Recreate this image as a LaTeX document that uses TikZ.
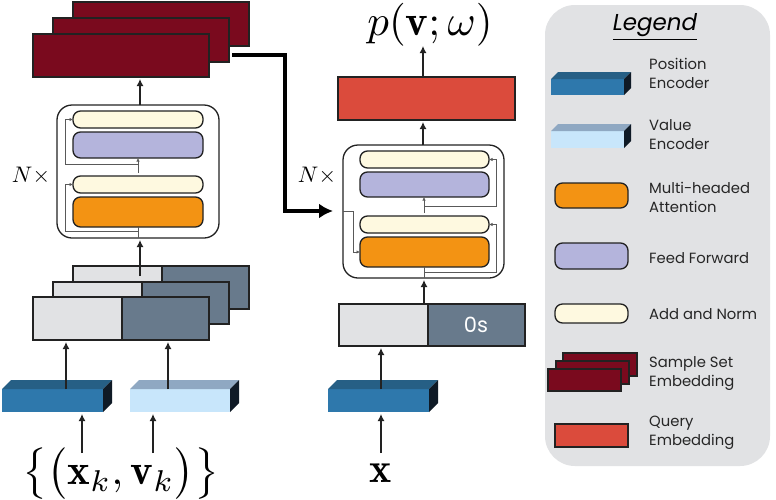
\documentclass[tikz,border=0pt]{standalone}
\usepackage{amsmath}
\usepackage{amssymb}
\usepackage{fontspec}
\newfontfamily\legfont{Poppins}
\usetikzlibrary{arrows.meta,calc}
\definecolor{maroon}{HTML}{7A0A1E}
\definecolor{posblue}{HTML}{2E78AC}
\definecolor{postop}{HTML}{265F85}
\definecolor{blockside}{HTML}{0F1A26}
\definecolor{valfront}{HTML}{C8E6FB}
\definecolor{valtop}{HTML}{8FA8C2}
\definecolor{lightg}{HTML}{E1E2E4}
\definecolor{darkg}{HTML}{687A8C}
\definecolor{orangeb}{HTML}{F39313}
\definecolor{purpleb}{HTML}{B4B4DC}
\definecolor{yellowb}{HTML}{FEF9E0}
\definecolor{redb}{HTML}{DB4B3C}
\definecolor{inkc}{HTML}{222222}
\tikzset{
  px/.style={draw=inkc,line width=1.3pt,inner sep=0pt,outer sep=0pt},
  enclosure/.style={px,fill=white,rounded corners=15pt},
  pill/.style={px,rounded corners=7.5pt},
  yellowpill/.style={pill,fill=yellowb},
  purplepill/.style={pill,fill=purpleb},
  orangepill/.style={pill,fill=orangeb},
  maroonbox/.style={px,fill=maroon},
  redbox/.style={px,fill=redb},
  lightbox/.style={px,fill=lightg},
  darkbox/.style={px,fill=darkg},
  posfront/.style={inner sep=0pt,outer sep=0pt,fill=posblue},
  valuefront/.style={inner sep=0pt,outer sep=0pt,fill=valfront},
  arr/.style={-{Latex[length=7pt,width=7pt]},line width=1.3pt,draw=inkc,shorten >=2pt},
  thinarr/.style={-{Latex[length=3.5pt,width=3.5pt]},line width=0.7pt,draw=black!65},
  thinline/.style={line width=0.7pt,draw=black!65},
  bigarr/.style={-{Latex[length=14pt,width=15pt]},line width=3.2pt,draw=black},
  leg/.style={anchor=west,inner sep=0pt,font=\legfont\fontsize{14.8}{19}\selectfont,text=black!85,align=left},
}
% name, style, x1,y1,x2,y2 (pixels)
\newcommand{\pxbox}[6]{%
  \pgfmathsetmacro{\pxw}{#5-#3}\pgfmathsetmacro{\pxh}{#6-#4}%
  \pgfmathsetmacro{\pxcx}{(#3+#5)/2}\pgfmathsetmacro{\pxcy}{(#4+#6)/2}%
  \node[#2,minimum width=\pxw pt,minimum height=\pxh pt] (#1) at (\pxcx,\pxcy) {};}
% name, front style, top colour, x1,y1,x2,y2, depth
\newcommand{\pxblock}[8]{%
  \pxbox{#1}{#2}{#4}{#5}{#6}{#7}%
  \fill[#3] (#1.north west) -- ++(#8,-#8) -- ($(#1.north east)+(#8,-#8)$) -- (#1.north east) -- cycle;
  \fill[blockside] (#1.north east) -- ++(#8,-#8) -- ($(#1.south east)+(#8,-#8)$) -- (#1.south east) -- cycle;}
\begin{document}
\begin{tikzpicture}[x=1pt,y=-1pt]
\useasboundingbox (0,0) rectangle (776,499);
\fill[white] (0,0) rectangle (776,499);
% ---- left column
\pxbox{ssb}{maroonbox}{73}{2}{249}{46}
\pxbox{ssm}{maroonbox}{53}{18}{229}{62}
\pxbox{ssf}{maroonbox}{33}{34}{209}{77}
\pxbox{enca}{enclosure}{57}{105}{219}{238}
\pxbox{ana}{yellowpill}{73}{111}{203}{128}
\pxbox{ffa}{purplepill}{73}{132}{203}{158}
\pxbox{anb}{yellowpill}{73}{176}{203}{193}
\pxbox{mha}{orangepill}{73}{197}{203}{227}
\node[scale=2.25] (na) at (31,176) {$N\times$};
\pxbox{sbl}{lightbox}{73}{266}{162}{309}
\pxbox{sbr}{darkbox}{162}{266}{249}{309}
\pxbox{sml}{lightbox}{53}{282}{142}{324}
\pxbox{smr}{darkbox}{142}{282}{229}{324}
\pxbox{sfl}{lightbox}{33}{297}{122}{340}
\pxbox{sfr}{darkbox}{122}{297}{209}{340}
\pxblock{pea}{posfront}{postop}{2}{389}{103}{412}{9}
\pxblock{vea}{valuefront}{valtop}{130}{389}{230}{412}{9}
\node[scale=4.3] (seta) at (121,474) {$\bigl\{\bigl(\mathbf{x}_k,\mathbf{v}_k\bigr)\bigr\}$};
\coordinate (xain) at (82,453);
\coordinate (vain) at (153,453);
\coordinate (stackout) at (140,276);
\coordinate (resa) at (138,173);
\coordinate (thickstart) at (232,55);
\coordinate (thickbend) at (285,55);
\draw[arr] (xain) -- (xain |- pea.south);
\draw[arr] (vain) -- (vain |- vea.south);
\draw[arr] ([xshift=13.5pt]pea.north) -- ([xshift=13.5pt]pea.north |- sfl.south);
\draw[arr] ([xshift=-12pt]vea.north) -- ([xshift=-12pt]vea.north |- sfr.south);
\draw[arr] (stackout) -- ([xshift=2pt]enca.south);
\draw[arr] ([xshift=2pt]enca.north) -- ([xshift=2pt]enca.north |- ssf.south);
\draw[thinarr] (resa) -- (resa |- ffa.south);
\draw[thinarr] ($(resa)+(0,-9)$) -- ++(-73,0) |- (ana.west);
\draw[thinline] (resa |- mha.south) -- (resa |- enca.south);
\draw[thinarr] (resa |- 0,231) -- ++(-73,0) |- (anb.west);
% ---- right column
\pxbox{qe}{redbox}{338}{77}{515}{120}
\pxbox{encb}{enclosure}{343}{145}{504}{278}
\pxbox{anc}{yellowpill}{360}{151}{489}{168}
\pxbox{ffb}{purplepill}{360}{172}{489}{197}
\pxbox{and}{yellowpill}{360}{216}{489}{233}
\pxbox{mhb}{orangepill}{360}{237}{489}{267}
\node[scale=2.25] (nb) at (317,176) {$N\times$};
\pxbox{ql}{lightbox}{339}{304}{428}{346}
\pxbox{qr}{darkbox}{428}{304}{525}{346}
\node[text=white,font=\legfont\fontsize{21}{24}\selectfont] (zeros) at (476,325) {0s};
\pxblock{peb}{posfront}{postop}{328}{389}{429}{412}{9}
\node[scale=4.2] (xb) at (381,473) {$\mathbf{x}$};
\node[scale=4.3] (out) at (430,25) {$p(\mathbf{v};\omega)$};
\coordinate (xbin) at (381,453);
\coordinate (outtip) at (423,46);
\coordinate (resb) at (424,213);
\coordinate (crossin) at (343,211);
\draw[arr] (xbin) -- (xbin |- peb.south);
\draw[arr] (xbin |- peb.north) -- (xbin |- ql.south);
\draw[arr] (resb |- ql.north) -- (resb |- encb.south);
\draw[arr,shorten >=0pt] (outtip |- qe.north) -- (outtip);
\draw[arr] (outtip |- encb.north) -- (outtip |- qe.south);
\draw[thinarr] (resb) -- (resb |- ffb.south);
\draw[thinarr] ($(resb)+(0,-7)$) -- ++(72,0) |- (anc.east);
\draw[thinline] (resb |- mhb.south) -- (resb |- encb.south);
\draw[thinarr] (resb |- 0,272) -- ++(72,0) |- (and.east);
\draw[thinarr] (crossin) -- ++(10,0) |- (mhb.west);
\draw[bigarr] (thickstart) -- (thickbend) -- (thickbend |- crossin) -- ++(48,0);
% ---- legend
\pxbox{lg}{fill=lightg,rounded corners=30pt,inner sep=0pt}{545}{5}{770}{466}
\node[font=\legfont\itshape\fontsize{23}{26}\selectfont,text=black] (lt) at (655,27) {\underline{Legend}};
\pxblock{l1}{posfront}{postop}{551}{79}{624}{95}{7}
\node[leg] (t1) at (649,73.5) {Position\\Encoder};
\pxblock{l2}{valuefront}{valtop}{551}{131}{624}{148}{7}
\node[leg] (t2) at (649,134.5) {Value\\Encoder};
\pxbox{l3}{orangepill}{555}{183}{628}{208}
\node[leg] (t3) at (649,197.5) {Multi-headed\\Attention};
\pxbox{l4}{purplepill}{555}{243}{628}{269}
\node[leg] (t4) at (649,258) {Feed Forward};
\pxbox{l5}{yellowpill}{555}{304}{628}{323}
\node[leg] (t5) at (649,314) {Add and Norm};
\pxbox{l6a}{maroonbox}{563}{353}{637}{376}
\pxbox{l6b}{maroonbox}{556}{361}{629}{384}
\pxbox{l6c}{maroonbox}{548}{369}{621}{391}
\node[leg] (t6) at (649,374) {Sample Set\\Embedding};
\pxbox{l7}{redbox}{555}{424}{628}{447}
\node[leg] (t7) at (649,433) {Query\\Embedding};
\end{tikzpicture}
\end{document}
